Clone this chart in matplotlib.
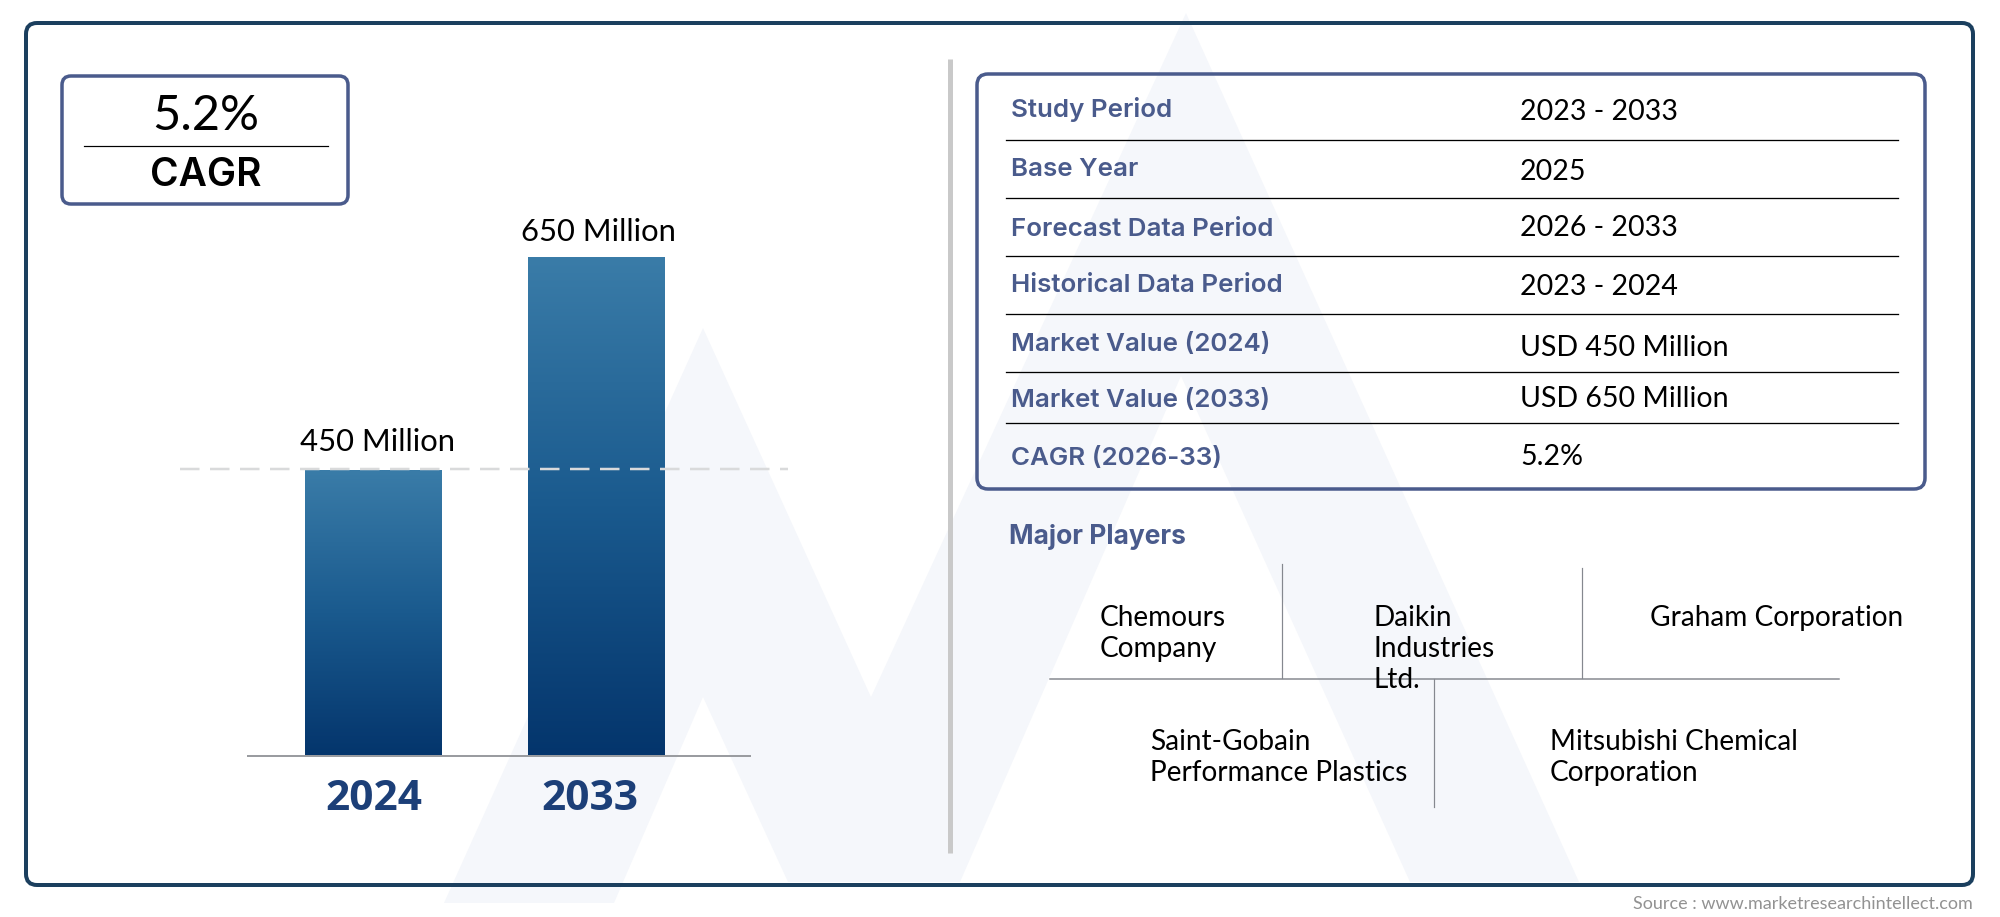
import numpy as np
import matplotlib
matplotlib.use("Agg")
import matplotlib.pyplot as plt
from matplotlib.colors import LinearSegmentedColormap
from matplotlib.patches import FancyBboxPatch, Polygon
from matplotlib.transforms import blended_transform_factory

W, H = 2000, 917

years = ["2024", "2033"]
market_values = [450, 650]
value_labels = ["450 Million", "650 Million"]
cagr_value = "5.2%"
cagr_label = "CAGR"

table_keys = ["Study Period", "Base Year", "Forecast Data Period", "Historical Data Period",
              "Market Value (2024)", "Market Value (2033)", "CAGR (2026-33)"]
table_values = ["2023 - 2033", "2025", "2026 - 2033", "2023 - 2024",
                "USD 450 Million", "USD 650 Million", "5.2%"]
players = ["Chemours\nCompany", "Daikin\nIndustries\nLtd.", "Graham Corporation",
           "Saint-Gobain\nPerformance Plastics", "Mitsubishi Chemical\nCorporation"]
source_text = "Source : www.marketresearchintellect.com"

# layout, in reference pixels
key_y = [110, 170, 229, 286, 345, 400, 458]
value_y = [112, 172, 228, 287, 348, 399, 457]
rule_y = [140, 198, 256, 314, 372, 423]
player_xy = [(1100, 605), (1374, 605), (1650, 605), (1150, 729), (1550, 729)]

NAVY = "#1b3f5e"
SLATE = "#4a5b8c"
BODY = "Lato"
HEAD = "Inter"
px = 72 / 100  # points per pixel at dpi 100

fig = plt.figure(figsize=(W / 100, H / 100), dpi=100, facecolor="white")

# page layer in pixel coordinates
bg = fig.add_axes([0, 0, 1, 1], zorder=0)
bg.set_xlim(0, W)
bg.set_ylim(H, 0)
bg.axis("off")

# pale logo behind everything
logo = [(444, 903), (703, 328), (871, 697), (1186, 13), (1579, 882), (1410, 882), (1181, 376),
        (960, 882), (788, 882), (703, 697), (614, 903)]
bg.add_patch(Polygon(logo, closed=True, fc="#f5f7fb", ec="none", zorder=1))


def box(x0, y0, x1, y1, color, lw, radius):
    bg.add_patch(FancyBboxPatch((x0 + radius, y0 + radius), x1 - x0 - 2 * radius, y1 - y0 - 2 * radius,
                                boxstyle=f"round,pad={radius},rounding_size={radius}",
                                fc="none", ec=color, lw=lw * px, zorder=3))


box(26, 23, 1973, 885, NAVY, 4, 11)
box(62, 76, 348, 204, SLATE, 3.5, 9)
box(977, 74, 1925, 489, SLATE, 3.5, 11)

bg.plot([84, 328], [146, 146], color="black", lw=1.2 * px, zorder=3)
bg.text(206, 116, cagr_value, fontsize=35, family=BODY, ha="center", va="center", color="black", zorder=4)
bg.text(206, 176, cagr_label, fontsize=28, family=HEAD, weight=600, ha="center", va="center", color="black", zorder=4)

# panel divider
bg.plot([950, 950], [59, 853], color="#c9c9c9", lw=5 * px, solid_capstyle="butt", zorder=3)

# table
for y in rule_y:
    bg.plot([1006, 1898], [y, y], color="black", lw=1.3 * px, zorder=3)
for name, y in zip(table_keys, key_y):
    bg.text(1011, y, name, fontsize=18.7, family=HEAD, weight=600, color=SLATE, ha="left", va="center", zorder=4)
for val, y in zip(table_values, value_y):
    bg.text(1520, y, val, fontsize=20.5, family=BODY, color="black", ha="left", va="center", zorder=4)

# major players
bg.text(1009, 537, "Major Players", fontsize=19, family=HEAD, weight=700, color=SLATE, ha="left", va="center", zorder=4)
grey = "#85888f"
bg.plot([1050, 1839], [679, 679], color=grey, lw=1.5 * px, zorder=3)
bg.plot([1282, 1282], [564, 678], color=grey, lw=1.2 * px, zorder=3)
bg.plot([1582, 1582], [568, 678], color=grey, lw=1.2 * px, zorder=3)
bg.plot([1434, 1434], [679, 807], color=grey, lw=1.2 * px, zorder=3)
for name, (x, y) in zip(players, player_xy):
    bg.text(x, y, name, fontsize=20.2, family=BODY, color="black", ha="left", va="top",
            linespacing=1.23, zorder=4)

bg.text(1973, 904, source_text, fontsize=13, family=BODY, color="#929292", ha="right", va="center", zorder=4)

# bar chart
ax = fig.add_axes([248 / W, 1 - 756 / H, (750 - 248) / W, (756 - 257) / H], zorder=1)
ax.patch.set_alpha(0)
ax.set_xlim(-0.56, 1.69)
ax.set_ylim(181.5, 650)
for side in ["top", "left", "right"]:
    ax.spines[side].set_visible(False)
ax.spines["bottom"].set_color("#9a9ca0")
ax.spines["bottom"].set_linewidth(2 * px)
ax.set_yticks([])
ax.set_xticks([])

cmap = LinearSegmentedColormap.from_list("bar", ["#04356c", "#1a5a8e", "#3a7ca8"])
ramp = np.linspace(1, 0, 256).reshape(-1, 1)
xpos = np.arange(len(years))
bars = ax.bar(xpos, market_values, width=0.612, color="none", zorder=2)
for rect in bars:
    x0, w = rect.get_x(), rect.get_width()
    ax.imshow(ramp, cmap=cmap, extent=(x0, x0 + w, ax.get_ylim()[0], rect.get_height()),
              aspect="auto", origin="upper", zorder=2, vmin=0, vmax=1)
ax.set_xlim(-0.56, 1.69)
ax.set_ylim(181.5, 650)

# value labels and year labels, nudged off bar centres as in the reference
label_dx = [5, 2]
label_dy = [28, 25]
year_dx = [1, -6]
for i, rect in enumerate(bars):
    cx = rect.get_x() + rect.get_width() / 2
    ax.annotate(value_labels[i], (cx, market_values[i]), xytext=(label_dx[i] * px, label_dy[i] * px),
                textcoords="offset points", ha="center", va="center", fontsize=22.3, family=BODY, color="black")
    ax.annotate(years[i], (cx, ax.get_ylim()[0]), xytext=(year_dx[i] * px, -44 * px),
                textcoords="offset points", ha="center", va="center", fontsize=30.5, family="Open Sans",
                weight="bold", color="#1c3f78", annotation_clip=False)

# dashed reference line at the 2024 value
trans = blended_transform_factory(bg.transData, ax.transData)
ax.plot([180, 788], [market_values[0] + 1, market_values[0] + 1], transform=trans, color="#d9dadb",
        lw=2.5 * px, dashes=(7.8, 4.2), clip_on=False, zorder=3)

fig.savefig("out.png", dpi=100)
